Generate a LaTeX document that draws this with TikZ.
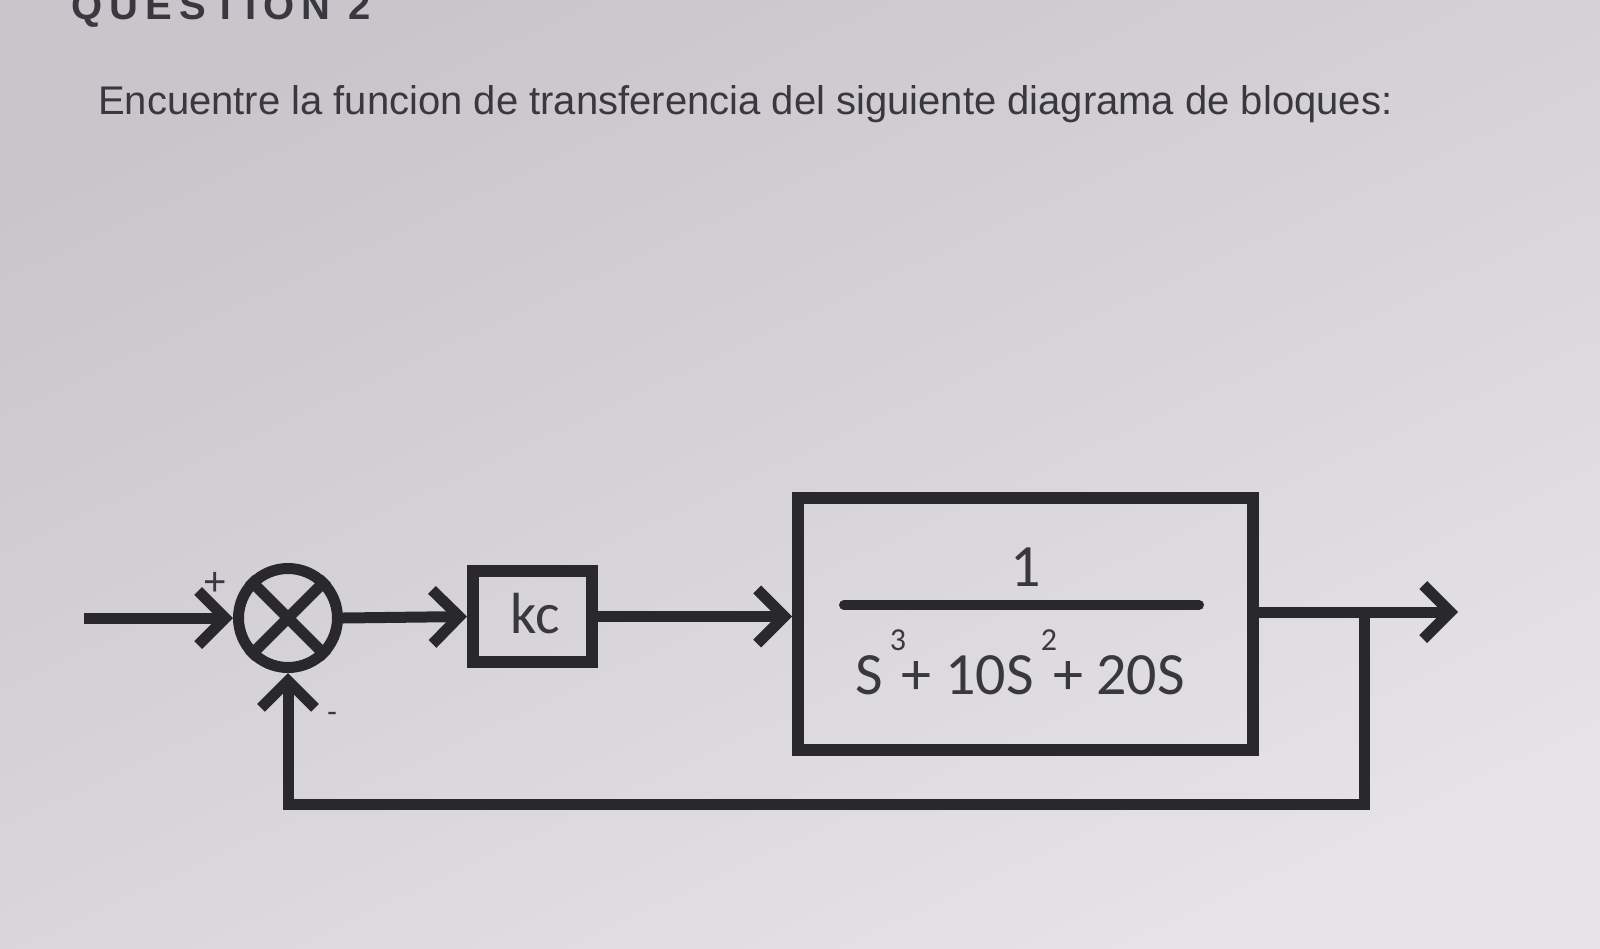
\documentclass[tikz,border=0pt]{standalone}
\usepackage{fontspec}
\setmainfont{Liberation Sans}
\newfontfamily\calib{Carlito}
\usetikzlibrary{arrows.meta}
\definecolor{bgA}{HTML}{C9C5CB}
\definecolor{bgB}{HTML}{E5E3E5}
\definecolor{ink}{HTML}{29292D}
\definecolor{txt}{HTML}{38383E}
\begin{document}
\begin{tikzpicture}[x=1pt,y=-1pt,
  wire/.style={draw=ink,line width=11pt},
  arr/.style={wire,-{Straight Barb[length=27pt,width=54pt]}},
  blk/.style={draw=ink,line width=12pt,inner sep=0pt},
  dtext/.style={text=txt,font=\calib\fontsize{60}{64}\selectfont,inner sep=0pt},
]
\useasboundingbox (0,0) rectangle (1600,948);
\clip (0,0) rectangle (1600,948);
\shade[top color=bgA,bottom color=bgB,shading angle=25] (0,0) rectangle (1600,948);

\node[anchor=base west,inner sep=0pt,text=txt,font=\fontsize{40}{44}\selectfont\bfseries\addfontfeatures{LetterSpace=18}] (q) at (71,19) {QUESTION 2};
\node[anchor=base west,inner sep=0pt,text=txt,font=\fontsize{40}{44}\selectfont] (t) at (98,114) {Encuentre la funcion de transferencia del siguiente diagrama de bloques:};

\coordinate (in) at (84,618);
\node[circle,draw=ink,line width=11pt,minimum size=99pt,inner sep=0pt] (sum) at (288,618) {};
\draw[wire] (sum.45) -- (sum.225);
\draw[wire] (sum.135) -- (sum.315);
\node[text=txt,font=\fontsize{40}{40}\selectfont,inner sep=0pt] (plus) at (215,584) {+};
\node[text=txt,font=\fontsize{30}{30}\selectfont,inner sep=0pt] (minus) at (332,717) {-};

\node[blk,minimum width=119pt,minimum height=91pt] (kc) at (532.5,616.5) {};
\node[dtext,font=\calib\fontsize{58}{60}\selectfont] (kct) at (535,614) {kc};

\node[blk,minimum width=455pt,minimum height=252pt] (g) at (1025.5,624) {};
\coordinate (bl) at (844,605);
\coordinate (br2) at (1199,605);
\draw[ink,line width=10pt,line cap=round] (bl) -- (br2);
\node[dtext] (num) at (1026,567) {1};
\node[dtext,anchor=base west] (den) at (855,694) {S\kern7pt\raisebox{44pt}{\fontsize{32}{32}\selectfont 3}\kern-4pt+ 10S\kern7pt\raisebox{44pt}{\fontsize{32}{32}\selectfont 2}\kern-4pt+ 20S};

\coordinate (go) at (1253,612);
\coordinate (out) at (1458,612);
\coordinate (bp) at (1364,612);
\coordinate (fb) at (1364,804);

\draw[arr] (in) -- (sum.west);
\draw[arr] (sum.east) -- (kc.west);
\draw[arr] (kc.east) -- (kc.east -| g.west);
\draw[arr] (go) -- (out);
\draw[arr] (bp) -- (fb) -| (sum.south);
\end{tikzpicture}
\end{document}
